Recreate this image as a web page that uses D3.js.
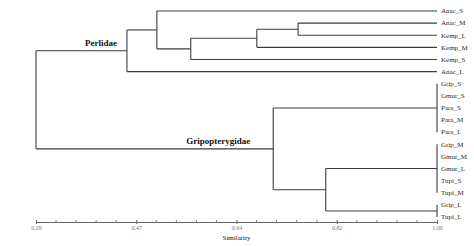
<!doctype HTML>
<html>
	<head>
		<meta charset="utf-8">
		<script src="https://d3js.org/d3.v7.min.js"></script>
		<style>
			body { margin: 0; background: #fff; }
			text { font-family: "Liberation Serif", "DejaVu Serif", serif; }
		</style>
	</head>
	<body>
		<div id="chart"></div>
		<script>
			//leaves, top to bottom
			var leafNames = ["Anac_S", "Anac_M", "Kemp_L", "Kemp_M", "Kemp_S", "Anac_L",
				"Grip_S", "Gmur_S", "Para_S", "Para_M", "Para_L",
				"Grip_M", "Gmur_M", "Gmur_L", "Tupi_S", "Tupi_M", "Grip_L", "Tupi_L"];

			//internal nodes (clusters) and where they join
			var nodeIds = ["n1", "n2", "n3", "n4", "Perlidae", "n5", "n6", "n7", "n8", "Gripopterygidae", "root"];
			var nodeChildren = [
				["Anac_M", "Kemp_L"],
				["n1", "Kemp_M"],
				["n2", "Kemp_S"],
				["Anac_S", "n3"],
				["n4", "Anac_L"],
				["Grip_S", "Gmur_S", "Para_S", "Para_M", "Para_L"],
				["Grip_M", "Gmur_M", "Gmur_L", "Tupi_S", "Tupi_M"],
				["Grip_L", "Tupi_L"],
				["n6", "n7"],
				["n5", "n8"],
				["Perlidae", "Gripopterygidae"]
			];
			var nodeSimilarity = [0.754, 0.681, 0.564, 0.504, 0.451, 1.00, 1.00, 1.00, 0.803, 0.710, 0.29];

			//the family labels
			var groupLabels = ["Perlidae", "Gripopterygidae"];

			//axis
			var tickValues = [0.29, 0.4675, 0.645, 0.8225, 1.00];
			var tickLabels = ["0.29", "0.47", "0.64", "0.82", "1.00"];
			var axisTitle = "Similarity";

			var width = 474, height = 246;
			var svg = d3.select("#chart").append("svg")
				.attr("width", width)
				.attr("height", height);

			var x = d3.scaleLinear().domain([0.29, 1.00]).range([36, 437]);
			var y = d3.scalePoint().domain(leafNames).range([11, 217]);

			//build the tree
			var lookup = {};
			nodeIds.forEach(function (id, i) {
				lookup[id] = {name: id, sim: nodeSimilarity[i], kids: nodeChildren[i]};
			});
			function build(name) {
				if (lookup[name]) {
					var n = lookup[name];
					return {name: name, sim: n.sim, children: n.kids.map(build)};
				}
				return {name: name, sim: 1.00};
			}
			var root = d3.hierarchy(build("root"));

			//y of leaves from the point scale, nodes in the middle of their first and last child
			root.eachAfter(function (d) {
				if (!d.children) {
					d.py = y(d.data.name);
				} else {
					d.py = (d.children[0].py + d.children[d.children.length - 1].py) / 2;
				}
				d.px = x(d.data.sim);
			});

			var g = svg.append("g")
				.attr("fill", "none")
				.attr("stroke", "#3c3c3c")
				.attr("stroke-width", 1.1);

			root.descendants().filter(function (d) { return d.children; }).forEach(function (d) {
				var first = d.children[0], last = d.children[d.children.length - 1];
				g.append("line")
					.attr("x1", d.px).attr("x2", d.px)
					.attr("y1", first.py).attr("y2", last.py);
				d.children.forEach(function (c) {
					if (c.px > d.px) {
						g.append("line")
							.attr("x1", d.px).attr("x2", c.px)
							.attr("y1", c.py).attr("y2", c.py);
					}
				});
			});

			//leaf labels
			svg.append("g").selectAll("text")
				.data(root.leaves())
				.enter().append("text")
				.attr("x", function (d) { return d.px + 4; })
				.attr("y", function (d) { return d.py; })
				.attr("dy", "0.33em")
				.attr("font-size", 7)
				.attr("fill", "#2a2a2a")
				.text(function (d) { return d.data.name; });

			//family labels, sitting on the branch left of their node
			var labelGap = {Perlidae: 10, Gripopterygidae: 23};
			root.descendants().filter(function (d) { return groupLabels.indexOf(d.data.name) >= 0; })
				.forEach(function (d) {
					svg.append("text")
						.attr("x", d.px - labelGap[d.data.name])
						.attr("y", d.py - 4.5)
						.attr("text-anchor", "end")
						.attr("font-size", 9)
						.attr("font-weight", "bold")
						.attr("fill", "#111")
						.text(d.data.name);
				});

			//axis
			var axisY = 222;
			var minorTicks = [];
			for (var i = 0; i < tickValues.length - 1; i++) {
				for (var k = 1; k < 5; k++) {
					minorTicks.push(tickValues[i] + (tickValues[i + 1] - tickValues[i]) * k / 5);
				}
			}
			var axis = svg.append("g")
				.attr("transform", "translate(0," + axisY + ")")
				.call(d3.axisBottom(x)
					.tickValues(tickValues)
					.tickFormat(function (d, i) { return tickLabels[i]; })
					.tickSize(2)
					.tickPadding(2));
			axis.select(".domain").attr("stroke", "#666");
			axis.selectAll(".tick line").attr("stroke", "#666").attr("y1", -2).attr("y2", 2);
			axis.selectAll(".tick text")
				.attr("font-family", "Liberation Serif, serif")
				.attr("font-size", 6)
				.attr("fill", "#777");
			axis.append("g").selectAll("line")
				.data(minorTicks)
				.enter().append("line")
				.attr("x1", function (d) { return x(d); })
				.attr("x2", function (d) { return x(d); })
				.attr("y1", -2).attr("y2", 0)
				.attr("stroke", "#888");

			svg.append("text")
				.attr("x", x(0.645))
				.attr("y", 239.5)
				.attr("text-anchor", "middle")
				.attr("font-size", 7)
				.attr("fill", "#111")
				.text(axisTitle);
		</script>
	</body>
</html>
